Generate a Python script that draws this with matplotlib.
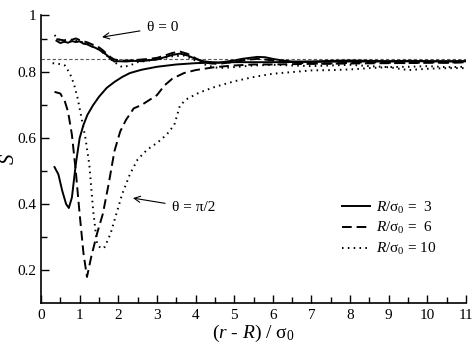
import numpy as np
import matplotlib
matplotlib.use("Agg")
from matplotlib import pyplot as plt
from matplotlib.ticker import FixedLocator, MultipleLocator

plt.rcParams['font.family'] = ['Liberation Serif', 'DejaVu Serif']
plt.rcParams['mathtext.fontset'] = 'custom'
plt.rcParams['mathtext.rm'] = 'Liberation Serif'
plt.rcParams['mathtext.it'] = 'Liberation Serif:italic'

# ---------------- datos ----------------
# theta = 0
x_t0_r3 = [0.4, 0.5, 0.6, 0.7, 0.8, 0.9, 1.0, 1.1, 1.2, 1.3, 1.4, 1.5, 1.6, 1.7, 1.8, 1.9,
           2.0, 2.2, 2.4, 2.6, 2.8, 3.0, 3.2, 3.4, 3.6, 3.8, 4.0, 4.2, 4.4, 4.6, 4.8, 5.0,
           5.2, 5.4, 5.6, 5.8, 6.0, 6.2, 6.5, 7.0, 7.5, 8.0, 8.5, 9.0, 9.5, 10.0, 10.5, 11.0]
y_t0_r3 = [0.895, 0.888, 0.892, 0.889, 0.894, 0.891, 0.893, 0.886, 0.884, 0.878, 0.874, 0.868,
           0.860, 0.852, 0.840, 0.832, 0.833, 0.832, 0.834, 0.833, 0.836, 0.838, 0.845, 0.852,
           0.856, 0.850, 0.840, 0.833, 0.830, 0.828, 0.832, 0.835, 0.840, 0.843, 0.846, 0.845,
           0.840, 0.836, 0.832, 0.832, 0.834, 0.835, 0.834, 0.833, 0.834, 0.833, 0.832, 0.833]

x_t0_r6 = x_t0_r3
y_t0_r6 = [0.900, 0.898, 0.896, 0.900, 0.898, 0.902, 0.897, 0.893, 0.890, 0.885, 0.880, 0.875,
           0.866, 0.856, 0.845, 0.838, 0.836, 0.834, 0.836, 0.838, 0.840, 0.843, 0.850, 0.858,
           0.862, 0.855, 0.842, 0.830, 0.826, 0.825, 0.828, 0.830, 0.835, 0.838, 0.840, 0.838,
           0.835, 0.832, 0.829, 0.826, 0.826, 0.828, 0.830, 0.828, 0.827, 0.830, 0.828, 0.830]

x_t0_r10 = [0.35, 0.5, 0.7, 0.9, 1.1, 1.3, 1.5, 1.7, 1.9, 2.1, 2.3, 2.5, 2.8, 3.1, 3.4, 3.7,
            4.0, 4.3, 4.6, 5.0, 5.5, 6.0, 6.5, 7.0, 7.5, 8.0, 8.5, 9.0, 9.5, 10.0, 10.5, 11.0]
y_t0_r10 = [0.912, 0.895, 0.892, 0.895, 0.890, 0.880, 0.868, 0.850, 0.830, 0.815, 0.820, 0.830,
            0.835, 0.840, 0.848, 0.850, 0.835, 0.820, 0.812, 0.815, 0.820, 0.822, 0.820, 0.818,
            0.820, 0.822, 0.818, 0.815, 0.816, 0.818, 0.815, 0.816]

# theta = pi/2
x_t90_r3 = [0.35, 0.45, 0.55, 0.65, 0.72, 0.8, 0.9, 1.0, 1.1, 1.2, 1.35, 1.5, 1.7, 1.9, 2.1,
            2.3, 2.6, 3.0, 3.5, 4.0, 4.5, 5.0, 6.0, 7.0, 8.0, 9.0, 10.0, 11.0]
y_t90_r3 = [0.512, 0.490, 0.440, 0.400, 0.388, 0.420, 0.520, 0.600, 0.640, 0.670, 0.700, 0.725,
            0.752, 0.770, 0.785, 0.797, 0.807, 0.816, 0.823, 0.827, 0.829, 0.830, 0.830, 0.831,
            0.832, 0.832, 0.833, 0.833]

x_t90_r6 = [0.35, 0.5, 0.62, 0.7, 0.8, 0.9, 1.0, 1.1, 1.19, 1.3, 1.45, 1.6, 1.75, 1.9, 2.05,
            2.2, 2.4, 2.6, 2.8, 3.0, 3.2, 3.4, 3.7, 4.0, 4.5, 5.0, 5.5, 6.0, 7.0, 8.0, 9.0,
            10.0, 11.0]
y_t90_r6 = [0.740, 0.735, 0.710, 0.680, 0.610, 0.500, 0.370, 0.250, 0.179, 0.240, 0.310, 0.370,
            0.460, 0.560, 0.620, 0.655, 0.690, 0.700, 0.715, 0.730, 0.760, 0.780, 0.797, 0.806,
            0.815, 0.820, 0.823, 0.823, 0.825, 0.826, 0.827, 0.828, 0.830]

x_t90_r10 = [0.3, 0.45, 0.62, 0.75, 0.85, 0.95, 1.05, 1.15, 1.25, 1.35, 1.45, 1.55, 1.65, 1.8,
             1.95, 2.1, 2.3, 2.5, 2.75, 3.0, 3.25, 3.45, 3.6, 3.8, 4.1, 4.5, 5.0, 5.5, 6.0,
             6.5, 7.0, 7.5, 8.0, 8.5, 9.0, 9.5, 10.0, 10.5, 11.0]
y_t90_r10 = [0.827, 0.825, 0.820, 0.795, 0.765, 0.720, 0.660, 0.600, 0.520, 0.380, 0.280, 0.265,
             0.270, 0.310, 0.370, 0.430, 0.490, 0.535, 0.565, 0.585, 0.610, 0.640, 0.700, 0.720,
             0.738, 0.755, 0.772, 0.785, 0.795, 0.800, 0.805, 0.806, 0.808, 0.812, 0.815, 0.806,
             0.810, 0.812, 0.812]

s_bulk = 0.84   # linea de referencia
y_top = 0.973   # el eje de la figura original termina aqui (rotulado "1")

x_ticks = [0, 1, 2, 3, 4, 5, 6, 7, 8, 9, 10, 11]
y_ticks = [0.2, 0.4, 0.6, 0.8, y_top]
y_tick_labels = ['0.2', '0.4', '0.6', '0.8', '1']
y_minor = [0.3, 0.5, 0.7, 0.9]

legend_labels = [r'$R$/σ$_0$ =  3', r'$R$/σ$_0$ =  6', r'$R$/σ$_0$ = 10']

# ---------------- grafico ----------------
fig = plt.figure(figsize=(4.74, 3.48), dpi=100)
ax = fig.add_axes([41/474, 1 - 303/348, 425/474, 288/348])

lw = 1.4
dash = (0, (5, 2.5))
dot = (0, (0.8, 2.2))

ax.axhline(s_bulk, color='0.35', lw=0.8, ls=(0, (3, 2)), zorder=1)

l1, = ax.plot(x_t0_r3, y_t0_r3, color='k', lw=lw, ls='-')
l2, = ax.plot(x_t0_r6, y_t0_r6, color='k', lw=lw, ls=dash)
l3, = ax.plot(x_t0_r10, y_t0_r10, color='k', lw=lw, ls=dot)
ax.plot(x_t90_r3, y_t90_r3, color='k', lw=lw, ls='-')
ax.plot(x_t90_r6, y_t90_r6, color='k', lw=lw, ls=dash)
ax.plot(x_t90_r10, y_t90_r10, color='k', lw=lw, ls=dot)

ax.annotate('θ = 0', xy=(1.58, 0.906), xytext=(2.74, 0.936),
            fontsize=11, va='center', ha='left',
            arrowprops=dict(arrowstyle='->', color='k', lw=0.8, shrinkA=3, shrinkB=0))
ax.annotate('θ = π/2', xy=(2.38, 0.418), xytext=(3.39, 0.388),
            fontsize=11, va='center', ha='left',
            arrowprops=dict(arrowstyle='->', color='k', lw=0.8, shrinkA=3, shrinkB=0))

ax.legend([l1, l2, l3], legend_labels, loc='upper left', frameon=False,
          bbox_to_anchor=(0.695, 0.38), fontsize=11, handlelength=1.8,
          handletextpad=0.4, labelspacing=0.3, borderaxespad=0)

ax.set_xlim(0, 11)
ax.set_ylim(0.1, y_top)
ax.xaxis.set_major_locator(FixedLocator(x_ticks))
ax.xaxis.set_minor_locator(MultipleLocator(0.5))
ax.yaxis.set_major_locator(FixedLocator(y_ticks))
ax.set_yticklabels(y_tick_labels)
ax.yaxis.set_minor_locator(FixedLocator(y_minor))
ax.tick_params(which='both', direction='in', labelsize=11, width=1)
ax.tick_params(which='major', length=6)
ax.tick_params(which='minor', length=4)
ax.tick_params(axis='x', pad=4)
ax.spines['top'].set_visible(False)
ax.spines['right'].set_visible(False)
for sp in ('left', 'bottom'):
    ax.spines[sp].set_linewidth(1.2)

ax.set_xlabel(r'($r$ - $R$) / σ$_0$', fontsize=14, labelpad=1)
ax.set_ylabel(r'$S$', fontsize=15)
ax.yaxis.set_label_coords(-0.052, 0.5)

fig.savefig('out.png', dpi=100)
